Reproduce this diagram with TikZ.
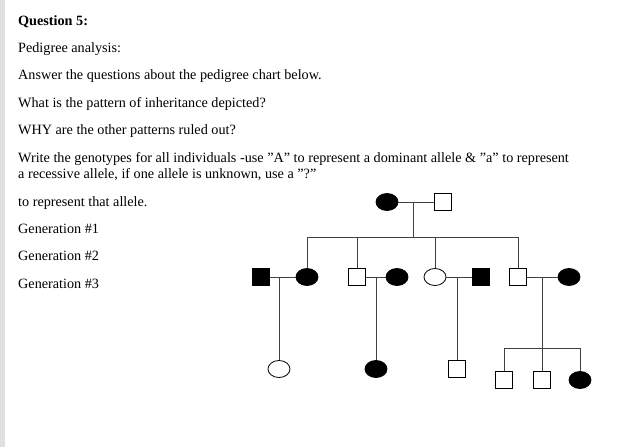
\documentclass[tikz,border=0pt]{standalone}
\usepackage{fontspec}
\setmainfont{Liberation Serif}
\usetikzlibrary{shapes.geometric}
\newcommand{\qq}{\symbol{34}}
\begin{document}
\begin{tikzpicture}[x=1pt,y=-1pt,
 txt/.style={anchor=base west,inner sep=0pt,font=\fontsize{14.2}{15}\selectfont},
 fem/.style={draw,ellipse,minimum width=22pt,minimum height=17pt,inner sep=0pt,line width=0.8pt},
 mal/.style={draw,rectangle,minimum size=17pt,inner sep=0pt,line width=0.8pt},
 aff/.style={fill=black},
 ln/.style={line width=0.9pt,draw=black!75}]
\useasboundingbox (0,0) rectangle (643,447);
\fill[black!12] (0,0) rectangle (5,447);
\node[txt,font=\fontsize{14.2}{15}\selectfont\bfseries] (t1) at (18,25) {Question 5:};
\node[txt] (t2) at (18,52) {Pedigree analysis:};
\node[txt] (t3) at (18,79) {Answer the questions about the pedigree chart below.};
\node[txt] (t4) at (18,107) {What is the pattern of inheritance depicted?};
\node[txt] (t5) at (18,134) {WHY are the other patterns ruled out?};
\node[txt] (t6) at (18,162) {Write the genotypes for all individuals -use \qq A\qq{} to represent a dominant allele \& \qq a\qq{} to represent};
\node[txt] (t7) at (18,178) {a recessive allele, if one allele is unknown, use a \qq?\qq};
\node[txt] (t8) at (18,206) {to represent that allele.};
\node[txt] (t9) at (18,233) {Generation \#1};
\node[txt] (t10) at (18,260) {Generation \#2};
\node[txt] (t11) at (18,288) {Generation \#3};
% gen 1
\node[fem,aff] (g1f) at (387,202) {};
\node[mal] (g1m) at (443,202) {};
\coordinate (c1) at (413,202);
\coordinate (s1) at (413,237);
\coordinate (sl) at (307,237);
\coordinate (sr) at (518,237);
\draw[ln] (g1f) -- (g1m);
\draw[ln] (c1) -- (s1);
\draw[ln] (sl) -- (sr);
% gen 2
\node[mal,aff] (a1) at (261,277) {};
\node[fem,aff] (a2) at (307,277) {};
\node[mal] (b1) at (357,277) {};
\node[fem,aff] (b2) at (397,277) {};
\node[fem] (d1) at (435,277) {};
\node[mal,aff] (d2) at (481,277) {};
\node[mal] (e1) at (518,277) {};
\node[fem,aff] (e2) at (569,277) {};
\draw[ln] (sl) -- (a2);
\draw[ln] (357,237) -- (b1);
\draw[ln] (435,237) -- (d1);
\draw[ln] (sr) -- (e1);
\draw[ln] (a1) -- (a2);
\draw[ln] (b1) -- (b2);
\draw[ln] (d1) -- (d2);
\draw[ln] (e1) -- (e2);
% gen 3
\node[fem] (k1) at (279,369) {};
\node[fem,aff] (k2) at (376,369) {};
\node[mal] (k3) at (457,369) {};
\node[mal] (k4) at (504,380) {};
\node[mal] (k5) at (542,380) {};
\node[fem,aff] (k6) at (580,380) {};
\draw[ln] (279,277) -- (k1);
\draw[ln] (376,277) -- (k2);
\draw[ln] (457,277) -- (k3);
\coordinate (s4) at (542,348);
\draw[ln] (542,277) -- (s4);
\draw[ln] (504,348) -- (580,348);
\draw[ln] (504,348) -- (k4);
\draw[ln] (s4) -- (k5);
\draw[ln] (580,348) -- (k6);
\end{tikzpicture}
\end{document}
